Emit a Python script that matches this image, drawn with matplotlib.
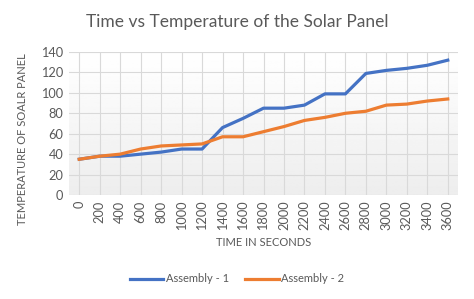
'''
Time vs temperature line chart
'''
import numpy as np
import matplotlib
matplotlib.use('Agg')
import matplotlib.pyplot as plt

time_labels = ['0', '200', '400', '600', '800', '1000', '1200', '1400', '1600', '1800',
               '2000', '2200', '2400', '2600', '2800', '3000', '3200', '3400', '3600']
assembly_1 = [35, 38, 38, 40, 42, 45, 45, 66, 75, 85, 85, 88, 99, 99, 119, 122, 124, 127, 132]
assembly_2 = [35, 38, 40, 45, 48, 49, 50, 57, 57, 62, 67, 73, 76, 80, 82, 88, 89, 92, 94]

plt.rcParams['font.family'] = ['Lato', 'DejaVu Sans']
grey = '#595959'

fig = plt.figure(figsize=(4.74, 2.99), dpi=100)
ax = fig.add_axes([69 / 474, 1 - 195 / 299, 389 / 474, 143 / 299])

x = np.arange(len(time_labels))
# soft vertical gradient behind the plot area
grad = np.linspace(1.0, 0.93, 100).reshape(-1, 1)
ax.imshow(grad, cmap='gray', vmin=0, vmax=1, aspect='auto',
          extent=[-0.5, len(x) - 0.5, 0, 140], zorder=0)

ax.plot(x, assembly_1, color='#4472c4', lw=2.3, label='Assembly - 1', zorder=3)
ax.plot(x, assembly_2, color='#ed7d31', lw=2.3, label='Assembly - 2', zorder=3)

ax.set_xlim(-0.5, len(x) - 0.5)
ax.set_ylim(0, 140)
ax.set_yticks(range(0, 141, 20))
ax.set_xticks(x)
ax.set_xticklabels(time_labels, rotation=90)
ax.grid(True, color='#d9d9d9', lw=0.8, zorder=1)
ax.set_axisbelow(True)
for s in ax.spines.values():
    s.set_visible(False)
ax.tick_params(length=0, colors=grey, labelsize=9.2, pad=4)

ax.set_xlabel('TIME IN SECONDS', color=grey, fontsize=8, labelpad=5)
ax.set_ylabel('TEMPERATURE OF SOALR PANEL', color=grey, fontsize=8, labelpad=4)
ax.yaxis.set_label_coords(-0.105, 0.39)
fig.text(0.5, 1 - 22 / 299, 'Time vs Temperature of the Solar Panel', ha='center',
         va='center', color=grey, fontsize=12.5)

fig.legend(loc='center', bbox_to_anchor=(0.5, 1 - 279 / 299), ncol=2, frameon=False,
           fontsize=8, labelcolor=grey, handlelength=3.0, columnspacing=1.5,
           handletextpad=0.2)

fig.savefig('out.png', dpi=100)
